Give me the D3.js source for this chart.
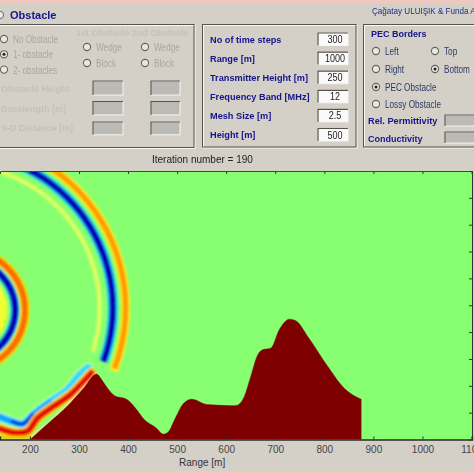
<!DOCTYPE html>
<html><head><meta charset="utf-8">
<script src="https://cdn.jsdelivr.net/npm/d3@7/dist/d3.min.js"></script>
<style>html,body{margin:0;padding:0;background:#d4d0c8;overflow:hidden}svg{display:block}text{font-family:"Liberation Sans",Arial,sans-serif}</style>
</head><body><svg id="c" width="474" height="474"></svg>
<script>
const rangeTicks=[200,300,400,500,600,700,800,900,1000,1100];
const heightTicks=[50,100,150,200,250,300,350,400,450];
const terrainRange=[203,241,275,309,336,345,356,373,397,418,431,458,472,482,496,513,530,561,615,623,637,650,664,674,691,708,729,742,766,807,841,875];
const terrainHeight=[2,33,61,95,122,113,98,81,75,55,39,21,10,14,39,67,75,65,63,64,80,117,157,167,170,204,224,221,192,136,95,75];
const cyanRange=[139,165,186,206,241,276,302,318];
const cyanHeight=[42,33,29,46,70,92,120,133];
const redRange=[139,174,196,216,247,282,308,325];
const redHeight=[20,12,16,40,61,83,107,124];
const settingLabels=["No of time steps","Range [m]","Transmitter Height [m]","Frequency Band [MHz]","Mesh Size [m]","Height [m]"];
const settingValues=["300","1000","250","12","2.5","500"];
const obstacleRadios=["No Obstacle","1- obstacle","2- obstacles"];
const obstacleFields=["Obstacle Height","Baselength [m]","S-D Distance [m]"];

const svg=d3.select("#c");
const P={l:0,r:472,t:171,b:439.5};
const x=d3.scaleLinear().domain([139,1101]).range([P.l,P.r]);
const y=d3.scaleLinear().domain([0,500]).range([P.b,P.t]);
const blue="#14148c";

svg.append("rect").attr("width",474).attr("height",3.5).attr("fill","#f0c8c0");
svg.append("rect").attr("y",471.5).attr("width",474).attr("height",3).attr("fill","#f5c9bd");
const defs=svg.append("defs");
defs.append("clipPath").attr("id","plot").append("rect").attr("x",P.l).attr("y",P.t).attr("width",P.r-P.l).attr("height",P.b-P.t);
defs.append("filter").attr("id","soft").attr("x","-5%").attr("y","-5%").attr("width","110%").attr("height","110%").append("feGaussianBlur").attr("stdDeviation",1);
defs.append("filter").attr("id","ui").append("feGaussianBlur").attr("stdDeviation",0.25);

const ui=svg.append("g").attr("filter","url(#ui)");
function box(a,b,c,d){ui.append("rect").attr("x",a).attr("y",b).attr("width",c-a).attr("height",d-b).attr("fill","none").attr("stroke","#fbfaf6").attr("transform","translate(1,1)");
 ui.append("rect").attr("x",a).attr("y",b).attr("width",c-a).attr("height",d-b).attr("fill","none").attr("stroke","#55534e").attr("stroke-width",1);}
function label(t,a,b,o={}){const n=ui.append("text").attr("x",a).attr("y",b).attr("font-size",o.s||10.5).attr("font-weight",o.w||"normal").attr("fill",o.c||"#222").attr("text-anchor",o.a||"start").text(t);
 if(o.sq){n.attr("textLength",n.node().getComputedTextLength()*o.sq).attr("lengthAdjust","spacingAndGlyphs");}}
function field(a,b,w,h,t,f){ui.append("rect").attr("x",a).attr("y",b).attr("width",w).attr("height",h).attr("fill",f||"#fff").attr("stroke","#f6f5f1");
 ui.append("path").attr("d",`M${a},${b+h}V${b}H${a+w}`).attr("fill","none").attr("stroke","#55534e").attr("stroke-width",1.2);
 if(t)label(t,a+w/2+2,b+h-2.5,{a:"middle",s:10,c:"#222",sq:.9});}
function radio(a,b,on,t,c){ui.append("circle").attr("cx",a).attr("cy",b).attr("r",3.6).attr("fill","#e8e6e0").attr("stroke","#66645e").attr("stroke-width",1.1);
 if(on)ui.append("circle").attr("cx",a).attr("cy",b).attr("r",1.5).attr("fill","#222");
 if(t)label(t,a+9,b+4,{c:c||"#2a3a6a",s:10.5,sq:.78});}

ui.append("circle").attr("cx",0).attr("cy",15).attr("r",3.6).attr("fill","#eee").attr("stroke","#66645e");
label("Obstacle",10,19,{s:11,w:"bold",c:blue});
box(-2,24.5,194,147.5); box(202.5,24.5,356,147); box(363.5,24.5,480,147);

const faded="#a8a6a0", fadedBold="#c3c1ba";
label("1st Obstacle 2nd Obstacle",76,36,{s:9,w:"bold",c:fadedBold});
obstacleRadios.forEach((t,i)=>radio(4,39+i*15.3,i==1,t,faded));
["Wedge","Block"].forEach((t,i)=>{radio(87,47+i*16,false,t,faded);radio(145,47+i*16,false,t,faded);});
obstacleFields.forEach((t,i)=>{label(t,1,92+i*19.5,{s:9,w:"bold",c:fadedBold});
 field(93,81+i*20.5,30,14-i*0.6,null,"#bcbab5"); field(151,81+i*20.5,29,14-i*0.6,null,"#bcbab5");});

settingLabels.forEach((t,i)=>{label(t,210,42.5+i*19.1,{s:9.2,w:"bold",c:blue});
 field(318,33+i*19.1,30,12.5,settingValues[i],"#fafafa");});

label("Çağatay ULUIŞIK & Funda A",372,14,{s:9.5,c:"#1c2f8c",sq:.85});
label("PEC Borders",371,37,{s:9,w:"bold",c:blue});
radio(376,51,false,"Left");radio(435,51,false,"Top");
radio(376,69,false,"Right");radio(435,69,true,"Bottom");
radio(376,87,true,"PEC Obstacle");radio(376,104,false,"Lossy Obstacle");
label("Rel. Permittivity",368,124,{s:9.2,w:"bold",c:blue});
label("Conductivity",368,142,{s:9,w:"bold",c:blue});
field(445,115,40,11,null,"#bcbab5");field(445,132,40,11,null,"#bcbab5");
label("Iteration number = 190",152,163,{s:10,c:"#222"});

const plot=svg.append("g").attr("clip-path","url(#plot)");
plot.append("rect").attr("x",P.l).attr("y",P.t).attr("width",P.r-P.l).attr("height",P.b-P.t).attr("fill","#88ff70");
const waves=plot.append("g").attr("filter","url(#soft)");
const rad=d=>x(d)-x(0);
function ring(cR,cH,r,w,col,a0,a1){
 const pr=rad(r);
 waves.append("path").attr("transform",`translate(${x(cR)},${y(cH)})`)
  .attr("d",d3.arc()({innerRadius:pr-w/2,outerRadius:pr+w/2,startAngle:a0*Math.PI/180,endAngle:a1*Math.PI/180}))
  .attr("fill",col);
}
// outer wavefront
ring(51,245,291,4.5,"#dcff60",0,108);
ring(51,245,344,9,"#ffee20",0,112);
ring(51,245,344,5.5,"#ff9c00",0,111);
ring(51,245,318,10,"#20d8f0",0,110);
ring(51,245,318,6.5,"#0014d8",0,110);
ring(51,245,318,2.5,"#00008c",0,110);
// inner wavefront
ring(68,241,122,9.5,"#ffd800",0,180);
ring(68,241,122,6,"#f87000",0,180);
ring(68,241,102,9,"#20d8f0",0,180);
ring(68,241,102,6.5,"#0000b8",0,180);
ring(68,241,72,14,"#f0ff30",0,180);
// reflected fronts
const ln=d3.line().x(d=>x(d[0])).y(d=>y(d[1])).curve(d3.curveCatmullRom);
const pts=(a,b)=>a.map((v,i)=>[v,b[i]]);
function band(a,b,w,col){waves.append("path").attr("d",ln(pts(a,b))).attr("fill","none").attr("stroke",col).attr("stroke-width",w).attr("stroke-linecap","round");}
band(cyanRange,cyanHeight,11,"#b8ff90");
band(cyanRange,cyanHeight,8,"#30d8ff");
band(cyanRange.slice(0,5),cyanHeight.slice(0,5),4.5,"#10a0ff");
band(cyanRange.slice(1,4),cyanHeight.slice(1,4),4,"#0040e0");
band(redRange,redHeight,10,"#ffe820");
band(redRange,redHeight,7.5,"#ff7000");
band(redRange,redHeight,4.5,"#e00000");
const area=d3.area().x(d=>x(d[0])).y0(y(0)).y1(d=>y(d[1])).curve(d3.curveMonotoneX);
const terr=pts(terrainRange,terrainHeight);
waves.append("path").attr("d",d3.line().x(d=>x(d[0])).y(d=>y(d[1]))(terr.slice(0,5))).attr("fill","none").attr("stroke","#fff0a0").attr("stroke-width",2.4);
waves.append("path").attr("d",`M0,${y(4)}H${x(205)}`).attr("stroke","#ffc000").attr("stroke-width",3);
plot.append("path").attr("d",area(terr)).attr("fill","#7e0000").attr("stroke","#7e0000").attr("stroke-width",.5);

const gx=svg.append("g").attr("transform",`translate(0,${P.b})`).call(d3.axisBottom(x).tickValues(rangeTicks).tickSize(-3).tickPadding(5).tickFormat(d3.format("d")));
gx.selectAll("text").attr("font-size",10).attr("fill","#444").attr("font-family",'"Liberation Sans",Arial,sans-serif').attr("dy","0.85em");
gx.selectAll("line").attr("stroke","#333");
gx.select(".domain").attr("stroke","#2a2a2a").attr("stroke-width",1.4);
const gt=svg.append("g").attr("transform",`translate(0,${P.t})`).call(d3.axisTop(x).tickValues(rangeTicks).tickSize(-3).tickFormat(""));
gt.selectAll("line").attr("stroke","#333");gt.select(".domain").attr("stroke","#3a4a3a");
const gr=svg.append("g").attr("transform",`translate(${P.r},0)`).call(d3.axisRight(y).tickValues(heightTicks).tickSize(-3).tickFormat(""));
gr.selectAll("line").attr("stroke","#333");gr.select(".domain").attr("stroke","#333");
svg.append("text").attr("x",x(551)).attr("y",466).attr("text-anchor","middle").attr("font-size",10).attr("fill","#333").text("Range [m]");
</script></body></html>
